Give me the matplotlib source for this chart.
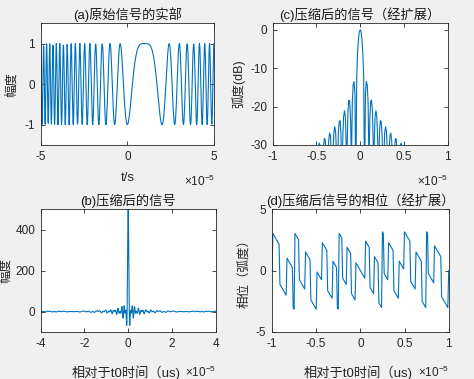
import numpy as np
import matplotlib
matplotlib.use("Agg")
import matplotlib.pyplot as plt

plt.rcParams['font.family'] = ['Liberation Sans', 'Noto Sans CJK SC', 'DejaVu Sans']
plt.rcParams['axes.unicode_minus'] = False
plt.rcParams['mathtext.fontset'] = 'custom'
plt.rcParams['mathtext.rm'] = 'Liberation Sans'

# LFM pulse parameters
T = 1e-4          # pulse width, s
fs = 5e6          # sample rate, Hz
K = 1e10          # chirp rate, Hz/s
t_zero = 1e-5     # time where instantaneous frequency is zero

titles = ["(a)原始信号的实部", "(c)压缩后的信号（经扩展）",
          "(b)压缩后的信号", "(d)压缩后信号的相位（经扩展）"]
ylabels = ["幅度", "弧度(dB)", "幅度", "相位（弧度）"]
xlabels = ["t/s", "", "相对于t0时间（us)", "相对于t0时间（us)"]

xticks_a = [-5, 0, 5]
yticks_a = [-1, 0, 1]
xticks_c = [-1, -0.5, 0, 0.5, 1]
yticks_c = [-30, -20, -10, 0]
xticks_b = [-4, -2, 0, 2, 4]
yticks_b = [0, 200, 400]
xticks_d = [-1, -0.5, 0, 0.5, 1]
yticks_d = [-5, 0, 5]

# signal and matched filter output
t = np.arange(-T / 2, T / 2, 1 / fs)
s = np.exp(1j * np.pi * K * (t - t_zero) ** 2)
y = np.correlate(s, s, 'full')
tc = np.linspace(-T / 2, T / 2, len(y))
ydb = 20 * np.log10(np.abs(y) / np.abs(y).max() + 1e-12)
yph = np.angle(y)

W, H = 474, 379
fig = plt.figure(figsize=(W / 100, H / 100), dpi=100, facecolor='#F0F0F0')


def ax_at(l, r, top, bot):
    return fig.add_axes([l / W, 1 - bot / H, (r - l) / W, (bot - top) / H])


axa = ax_at(40.7, 214, 23.3, 145)
axc = ax_at(272.7, 447.7, 22.7, 145)
axb = ax_at(40.7, 215.7, 209, 332)
axd = ax_at(272, 448.7, 209, 332)

col = '#0072BD'
lw = 0.8
axa.plot(t, s.real, color=col, lw=lw)
axc.plot(tc, ydb, color=col, lw=lw)
axb.plot(tc, y.real, color=col, lw=lw)
axd.plot(tc, yph, color=col, lw=lw)

axa.set_xlim(-5e-5, 5e-5)
axa.set_ylim(-1.5, 1.5)
axc.set_xlim(-1e-5, 1e-5)
axc.set_ylim(-30, 1.8)
axb.set_xlim(-4e-5, 4e-5)
axb.set_ylim(-100, 500)
axd.set_xlim(-1e-5, 1e-5)
axd.set_ylim(-5, 5)

ticks = [(axa, xticks_a, yticks_a), (axc, xticks_c, yticks_c),
         (axb, xticks_b, yticks_b), (axd, xticks_d, yticks_d)]
for ax, xt, yt in ticks:
    ax.set_xticks([v * 1e-5 for v in xt])
    ax.set_xticklabels([f"{v:g}" for v in xt])
    ax.set_yticks(yt)
    ax.set_yticklabels([f"{v:g}" for v in yt])

ylab_x = [-0.131, -0.158, -0.164, -0.125]
xlab_y = [-0.22, -0.22, -0.27, -0.27]
xlab_x = [0.5, 0.5, 0.49, 0.49]
exp_y = [-0.30, -0.30, -0.325, -0.325]
for i, ax in enumerate([axa, axc, axb, axd]):
    for sp in ax.spines.values():
        sp.set_color('#262626')
        sp.set_linewidth(0.6)
    ax.tick_params(direction='in', length=3, width=0.6, colors='#262626',
                   labelsize=8.5, top=True, right=True, pad=4)
    ax.set_title(titles[i], fontsize=9.5, pad=3, color='#1a1a1a')
    ax.set_ylabel(ylabels[i], fontsize=9, color='#262626')
    ax.yaxis.set_label_coords(ylab_x[i], 0.5)
    if xlabels[i]:
        ax.set_xlabel(xlabels[i], fontsize=9.5, color='#262626')
        ax.xaxis.set_label_coords(xlab_x[i], xlab_y[i])
    ax.text(1.005, exp_y[i], r'×10$\mathregular{^{-5}}$', transform=ax.transAxes,
            ha='right', va='center', fontsize=8.5, color='#262626')

fig.savefig("out.png", dpi=100, facecolor=fig.get_facecolor())
